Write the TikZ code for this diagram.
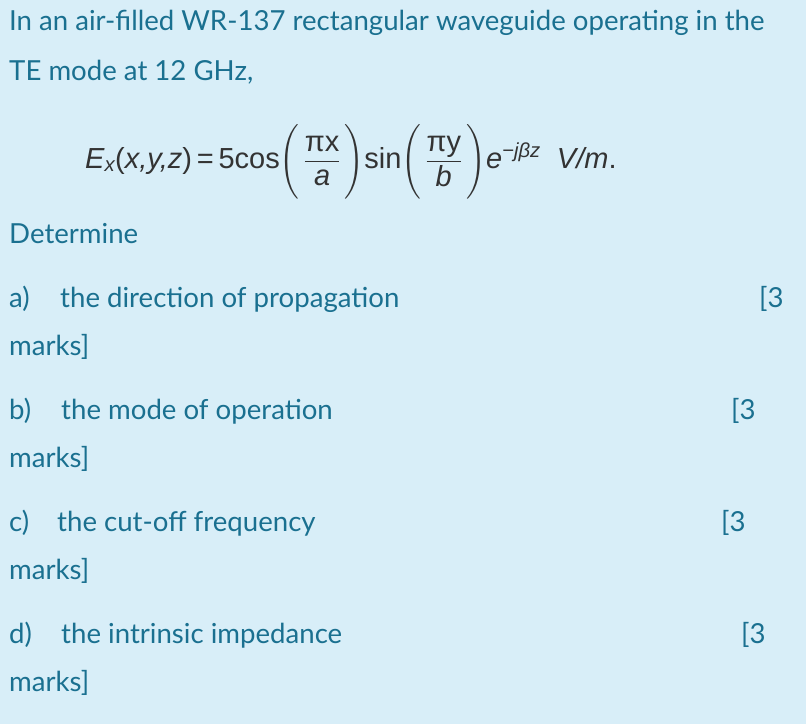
\documentclass[tikz,border=0pt]{standalone}
\usepackage{fontspec}
\usepackage{amsmath}
\setmainfont{Lato}
\newfontfamily\eqf{Liberation Sans}
\definecolor{bg}{HTML}{D8EEF8}
\definecolor{tx}{HTML}{1A7090}
\definecolor{eqc}{HTML}{333333}
\begin{document}
\begin{tikzpicture}[x=1pt,y=-1pt,
  t/.style={anchor=base west,inner sep=0pt,text=tx,font=\fontsize{27.6}{30}\selectfont}]
\useasboundingbox[fill=bg] (0,0) rectangle (806,724);
\node[t] (l1) at (9,30) {In an air-filled WR-137 rectangular waveguide operating in the};
\node[t] (l2) at (9,80) {TE mode at 12 GHz,};
\node[anchor=base west,inner sep=0pt,text=eqc,font=\fontsize{29}{32}\selectfont] (eq) at (85,168)
 {$\displaystyle\text{\eqf\itshape E}_{\text{\eqf\itshape x}}\text{\eqf(\itshape x,y,z\upshape)\,=\,5cos}\Bigg(\,\frac{\text{\eqf πx}}{\text{\eqf\itshape a}}\,\Bigg)\text{\eqf sin}\Bigg(\,\frac{\text{\eqf πy}}{\text{\eqf\itshape b}}\,\Bigg)\text{\eqf\itshape e}^{\text{\eqf\itshape −jβz}}\text{\eqf\itshape\ \ V/m}\text{\eqf .}$};
\node[t] (det) at (9,243) {Determine};
\node[t] (a) at (9,307) {a)};
\node[t] (at) at (60,307) {the direction of propagation};
\node[t] (am) at (9,355) {marks]};
\node[t] (a3) at (759,307) {[3};
\node[t] (b) at (9,419) {b)};
\node[t] (bt) at (61,419) {the mode of operation};
\node[t] (bm) at (9,467) {marks]};
\node[t] (b3) at (731,419) {[3};
\node[t] (c) at (9,531) {c)};
\node[t] (ct) at (57,531) {the cut-off frequency};
\node[t] (cm) at (9,579) {marks]};
\node[t] (c3) at (721,531) {[3};
\node[t] (d) at (9,643) {d)};
\node[t] (dt) at (61,643) {the intrinsic impedance};
\node[t] (dm) at (9,691) {marks]};
\node[t] (d3) at (741,643) {[3};
\end{tikzpicture}
\end{document}
